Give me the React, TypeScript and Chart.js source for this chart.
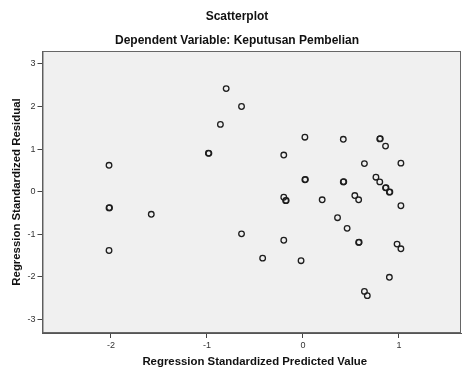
import React, { useEffect, useRef } from 'react';
import { Chart, registerables } from 'chart.js';

Chart.register(...registerables);

const chartTitle = 'Scatterplot';
const chartSubtitle = 'Dependent Variable: Keputusan Pembelian';
const xAxisTitle = 'Regression Standardized Predicted Value';
const yAxisTitle = 'Regression Standardized Residual';

const xTicks = [-2, -1, 0, 1];
const yTicks = [-3, -2, -1, 0, 1, 2, 3];

// Regression standardized predicted values (x) and residuals (y)
const xValues = [
  -0.80, -0.64, -0.86, -0.98, -0.985, -2.02, 0.02, 0.42, 0.80, 0.805,
  0.86, -0.20, 0.64, 1.02, 0.02, 0.025, 0.42, 0.425, 0.76, 0.80,
  0.86, 0.865, 0.90, 0.905, -0.20, -0.18, -0.175, 0.20, 0.54, 0.58,
  1.02, 0.36, 0.46, -0.20, 0.58, 0.585, 0.98, 1.02, -0.42, -0.02,
  0.90, 0.64, 0.67, -2.02, -2.015, -1.58, -2.02, -0.64,
];
const yValues = [
  2.42, 2.00, 1.58, 0.90, 0.905, 0.62, 1.28, 1.23, 1.24, 1.245,
  1.07, 0.86, 0.66, 0.67, 0.28, 0.285, 0.23, 0.235, 0.34, 0.23,
  0.09, 0.095, -0.01, -0.005, -0.13, -0.21, -0.205, -0.19, -0.09, -0.19,
  -0.33, -0.61, -0.86, -1.14, -1.19, -1.185, -1.23, -1.34, -1.56, -1.62,
  -2.01, -2.34, -2.44, -0.38, -0.375, -0.53, -1.38, -0.99,
];

const FONT = "'Liberation Sans', Arial, sans-serif";

const framePlugin = {
  id: 'spssFrame',
  beforeDraw(chart: any) {
    const { ctx, chartArea } = chart;
    ctx.save();
    ctx.fillStyle = '#f0f0f0';
    ctx.fillRect(chartArea.left, chartArea.top, chartArea.right - chartArea.left, chartArea.bottom - chartArea.top);
    ctx.restore();
  },
  afterDraw(chart: any) {
    const { ctx, chartArea, width } = chart;
    ctx.save();
    ctx.strokeStyle = '#666';
    ctx.lineWidth = 1;
    ctx.strokeRect(chartArea.left + 0.5, chartArea.top + 0.5, chartArea.right - chartArea.left - 1, chartArea.bottom - chartArea.top - 1);
    ctx.fillStyle = '#111';
    ctx.textAlign = 'center';
    ctx.textBaseline = 'middle';
    ctx.font = `bold 12px ${FONT}`;
    ctx.fillText(chartTitle, width / 2, 17);
    ctx.fillText(chartSubtitle, width / 2, 41);
    ctx.font = `bold 11.4px ${FONT}`;
    const cx = (chartArea.left + chartArea.right) / 2 + 3;
    ctx.fillText(xAxisTitle, cx, 362);
    ctx.translate(17, (chartArea.top + chartArea.bottom) / 2);
    ctx.rotate(-Math.PI / 2);
    ctx.fillText(yAxisTitle, 0, 0);
    ctx.restore();
  },
};

export default function App() {
  const ref = useRef<HTMLCanvasElement | null>(null);

  useEffect(() => {
    if (!ref.current) return;
    const points = xValues.map((x, i) => ({ x, y: yValues[i] }));
    const tickFont = { family: FONT, size: 9 };
    const chart = new Chart(ref.current, {
      type: 'scatter',
      data: {
        datasets: [
          {
            data: points,
            pointStyle: 'circle',
            pointRadius: 2.8,
            pointBorderWidth: 1.3,
            borderColor: '#1e1e1e',
            backgroundColor: 'rgba(0,0,0,0)',
          },
        ],
      },
      options: {
        animation: false,
        responsive: false,
        layout: { padding: { top: 51, right: 13, left: 0, bottom: 0 } },
        plugins: { legend: { display: false }, tooltip: { enabled: false }, title: { display: false } },
        scales: {
          x: {
            type: 'linear',
            min: -2.713,
            max: 1.646,
            afterBuildTicks: (s: any) => {
              s.ticks = xTicks.map((v) => ({ value: v }));
            },
            afterFit: (s: any) => {
              s.height = 46;
            },
            grid: { display: true, drawOnChartArea: false, drawTicks: true, tickLength: 5, tickColor: '#444', lineWidth: 1 },
            border: { display: true, color: '#555', width: 1 },
            ticks: { font: tickFont, color: '#333', padding: 2, maxRotation: 0, autoSkip: false, callback: (v: any) => String(v) },
          },
          y: {
            type: 'linear',
            min: -3.317,
            max: 3.303,
            afterBuildTicks: (s: any) => {
              s.ticks = yTicks.map((v) => ({ value: v }));
            },
            afterFit: (s: any) => {
              s.width = 42.5;
            },
            grid: { display: true, drawOnChartArea: false, drawTicks: true, tickLength: 5, tickColor: '#444', lineWidth: 1 },
            border: { display: true, color: '#555', width: 1 },
            ticks: { font: tickFont, color: '#333', padding: 2, autoSkip: false, callback: (v: any) => String(v) },
          },
        },
      },
      plugins: [framePlugin],
    } as any);
    return () => chart.destroy();
  }, []);

  return (
    <div style={{ position: 'absolute', left: 0, top: 0, width: 474, height: 379, background: '#fff' }}>
      <canvas ref={ref} width={474} height={379} style={{ display: 'block' }} />
    </div>
  );
}
